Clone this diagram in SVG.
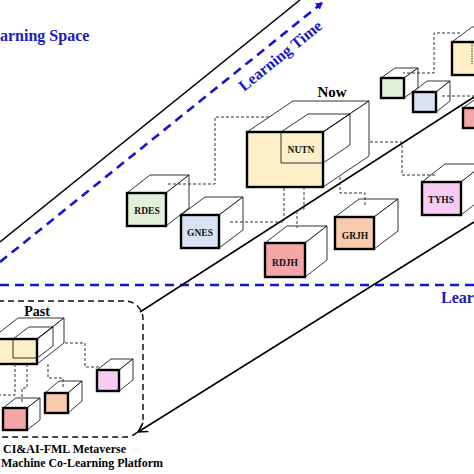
<svg xmlns="http://www.w3.org/2000/svg" width="474" height="474" viewBox="0 0 474 474">
<defs>
<style>
.face{fill:#fff;stroke:#000;stroke-width:0.8;stroke-linejoin:round}
.front{stroke:#000;stroke-width:2.4}
.inner{fill:none;stroke:#000;stroke-width:0.8}
.lbl{font-family:"Liberation Serif","Times New Roman",serif;font-weight:bold;font-size:9.5px;fill:#111;text-anchor:middle}
.title{font-family:"Liberation Serif","Times New Roman",serif;font-weight:bold;fill:#000}
.blue{font-family:"Liberation Serif","Times New Roman",serif;font-weight:bold;font-size:16px;fill:#1a1ac0}
.conn{fill:none;stroke:#333;stroke-width:1;stroke-dasharray:3 2}
.axis{fill:none;stroke:#1515d0;stroke-width:2.6;stroke-dasharray:9 6}
.solid{fill:none;stroke:#000;stroke-width:1.5}
</style>
<marker id="bluehead" markerWidth="8" markerHeight="8" refX="6" refY="4" orient="auto" markerUnits="userSpaceOnUse">
<path d="M0,0 L7,4 L0,8 z" fill="#1515d0"/>
</marker>
<marker id="openhead" markerWidth="12" markerHeight="12" refX="10" refY="6" orient="auto" markerUnits="userSpaceOnUse">
<path d="M1,1 L10,6 L1,11" fill="none" stroke="#000" stroke-width="1.5"/>
</marker>
</defs>
<rect width="474" height="474" fill="#fff"/>

<!-- axes and background lines -->
<g id="axes">
<line class="solid" x1="0" y1="242" x2="300" y2="0"/>
<line class="axis" x1="0" y1="262" x2="322" y2="3" marker-end="url(#bluehead)"/>
<line class="axis" x1="0" y1="285" x2="474" y2="285"/>
<line class="solid" x1="140" y1="312" x2="474" y2="97"/>
<line class="solid" x1="474" y1="222" x2="138" y2="432" marker-end="url(#openhead)"/>
<rect x="-30" y="301" width="173" height="136" rx="18" fill="none" stroke="#111" stroke-width="1.5" stroke-dasharray="6 4"/>
</g>

<text class="blue" x="0" y="41">arning Space</text>
<text class="blue" transform="translate(244,92) rotate(-39)">Learning Time</text>
<text class="blue" x="441" y="303">Lear</text>
<text class="title" x="332" y="97" font-size="15" text-anchor="middle">Now</text>
<text class="title" x="37" y="316" font-size="14" text-anchor="middle">Past</text>
<text class="title" x="3" y="453" font-size="12.5" textLength="123" lengthAdjust="spacingAndGlyphs">CI&amp;AI-FML Metaverse</text>
<text class="title" x="1" y="467" font-size="12.5" textLength="162" lengthAdjust="spacingAndGlyphs">Machine Co-Learning Platform</text>

<!-- Now cubes -->
<g id="NUTN">
<path class="face" d="M247,132 L293,101 L369,101 L323,132 Z"/>
<path class="face" d="M323,132 L369,101 L369,156 L323,187 Z"/>
<rect class="front" x="247" y="132" width="76" height="55" fill="#fdf0c8"/>
<path class="inner" d="M281,132 L281,163 L323,163 M281,132 L308,114 L350,114 L323,132 M350,114 L350,145 L323,163"/>
<text class="lbl" x="301" y="153">NUTN</text>
</g>
<g id="RDES">
<path class="face" d="M127,193 L150,175 L189,175 L166,193 Z"/>
<path class="face" d="M166,193 L189,175 L189,208 L166,226 Z"/>
<rect class="front" x="127" y="193" width="39" height="33" fill="#e2efd9"/>
<text class="lbl" x="147" y="214">RDES</text>
</g>
<g id="GNES">
<path class="face" d="M181,215 L205,197 L243,197 L219,215 Z"/>
<path class="face" d="M219,215 L243,197 L243,230 L219,248 Z"/>
<rect class="front" x="181" y="215" width="38" height="33" fill="#d9e2f3"/>
<text class="lbl" x="200" y="236">GNES</text>
</g>
<g id="RDJH">
<path class="face" d="M265,243 L287,226 L327,226 L305,243 Z"/>
<path class="face" d="M305,243 L327,226 L327,260 L305,277 Z"/>
<rect class="front" x="265" y="243" width="40" height="34" fill="#f4a6a6"/>
<text class="lbl" x="285" y="266">RDJH</text>
</g>
<g id="GRJH">
<path class="face" d="M335,217 L359,199 L398,199 L374,217 Z"/>
<path class="face" d="M374,217 L398,199 L398,231 L374,249 Z"/>
<rect class="front" x="335" y="217" width="39" height="32" fill="#f8cbad"/>
<text class="lbl" x="355" y="239">GRJH</text>
</g>
<g id="TYHS">
<path class="face" d="M422,182 L445,164 L484,164 L461,182 Z"/>
<path class="face" d="M461,182 L484,164 L484,197 L461,215 Z"/>
<rect class="front" x="422" y="182" width="39" height="33" fill="#f8cbf3"/>
<text class="lbl" x="441" y="203">TYHS</text>
</g>
<g id="future-yellow">
<path class="face" d="M452,42 L472,27 L520,27 L500,42 Z"/>
<rect class="front" x="452" y="42" width="48" height="33" fill="#fdf0c8"/>
<path class="inner" d="M472,43 L472,64" stroke-dasharray="1.5 1"/>
</g>
<g id="future-green">
<path class="face" d="M381,78 L395,68 L418,68 L404,78 Z"/>
<path class="face" d="M404,78 L418,68 L418,88 L404,98 Z"/>
<rect class="front" x="381" y="78" width="23" height="20" fill="#e2efd9"/>
</g>
<g id="future-blue">
<path class="face" d="M413,92 L427,81 L450,81 L436,92 Z"/>
<path class="face" d="M436,92 L450,81 L450,101 L436,112 Z"/>
<rect class="front" x="413" y="92" width="23" height="20" fill="#d9e2f3"/>
</g>
<g id="future-red">
<path class="face" d="M463,108 L477,98 L500,98 L486,108 Z"/>
<rect class="front" x="463" y="108" width="23" height="20" fill="#f4a6a6"/>
</g>

<!-- Past cubes -->
<g id="past-yellow">
<path class="face" d="M-9,339 L18,318 L64,318 L37,339 Z"/>
<path class="face" d="M37,339 L64,318 L64,343 L37,364 Z"/>
<rect class="front" x="-9" y="339" width="46" height="25" fill="#fdf0c8"/>
<path class="inner" d="M13,339 L13,358 L37,358 M13,339 L29,327 L53,327 L37,339 M53,327 L53,346 L37,358"/>
</g>
<g id="past-pink">
<path class="face" d="M97,370 L111,359 L133,359 L119,370 Z"/>
<path class="face" d="M119,370 L133,359 L133,380 L119,391 Z"/>
<rect class="front" x="97" y="370" width="22" height="21" fill="#f8cbf3"/>
</g>
<g id="past-orange">
<path class="face" d="M45,393 L59,381 L82,381 L68,393 Z"/>
<path class="face" d="M68,393 L82,381 L82,401 L68,413 Z"/>
<rect class="front" x="45" y="393" width="23" height="20" fill="#f8cbad"/>
</g>
<g id="past-red">
<path class="face" d="M3,408 L16,398 L40,398 L27,408 Z"/>
<path class="face" d="M27,408 L40,398 L40,420 L27,430 Z"/>
<rect class="front" x="3" y="408" width="24" height="22" fill="#f4a6a6"/>
</g>

<!-- connectors -->
<g id="connectors">
<path class="conn" d="M269,117 L215,117 L215,184 L166,184"/>
<path class="conn" d="M230,222 L284,222 L284,187"/>
<path class="conn" d="M304,187 L304,209 L297,210 L297,228"/>
<path class="conn" d="M340,177 L340,193 L365,193 L365,207"/>
<path class="conn" d="M370,142 L402,142 L402,175 L435,175"/>
<path class="conn" d="M460,33 L434,33 L434,73 L403,73"/>
<path class="conn" d="M442,96 L474,96"/>
<path class="conn" d="M65,343 L85,343 L85,367 L100,367"/>
<path class="conn" d="M48,364 L48,378 L63,378 L63,387"/>
<path class="conn" d="M15,364 L15,395 L0,395"/>
<path class="conn" d="M27,364 L27,388 L22,388 L22,402"/>
</g>
</svg>
